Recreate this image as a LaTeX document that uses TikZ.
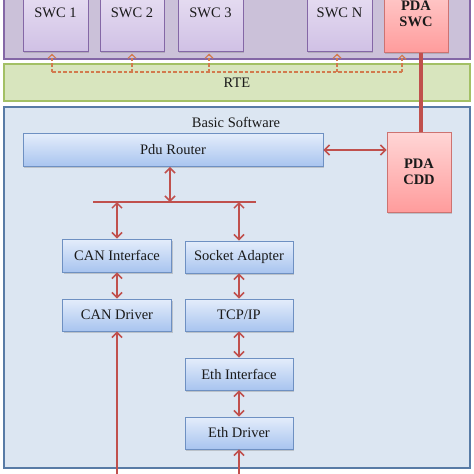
\documentclass[tikz,border=0pt]{standalone}
\usepackage{fontspec}
\setmainfont{Liberation Serif}
\usetikzlibrary{arrows.meta,shadows,shadings,calc}
\definecolor{layerpurple}{HTML}{CBC1D9}
\definecolor{purpleedge}{HTML}{8467A6}
\definecolor{swctop}{HTML}{EEE7F6}
\definecolor{swcbot}{HTML}{D0C1E5}
\definecolor{pdatop}{HTML}{FFD6D6}
\definecolor{pdabot}{HTML}{FF9C9C}
\definecolor{pdaedge}{HTML}{C0504D}
\definecolor{rtefill}{HTML}{D8E5BE}
\definecolor{rteedge}{HTML}{A3C065}
\definecolor{bswfill}{HTML}{DCE6F2}
\definecolor{bswedge}{HTML}{587BA6}
\definecolor{bluetop}{HTML}{E4EDFB}
\definecolor{bluebot}{HTML}{A8C4EF}
\definecolor{blueedge}{HTML}{6E90C2}
\definecolor{arrowred}{HTML}{C0504D}
\definecolor{dashorange}{HTML}{D27A4E}
\definecolor{txt}{HTML}{1A1A1A}
\tikzset{
  base/.style={rectangle, inner sep=0pt, text=txt, font=\fontsize{14.5}{15.5}\selectfont, align=center},
  layer/.style={base, line width=1.2pt},
  swcbox/.style={base, draw=purpleedge, line width=1pt, top color=swctop, bottom color=swcbot,
     drop shadow={shadow xshift=1pt, shadow yshift=-1.5pt, opacity=0.35}},
  pdabox/.style={base, draw=pdaedge!80, line width=1pt, top color=pdatop, bottom color=pdabot,
     font=\fontsize{14.5}{15.5}\selectfont\bfseries,
     drop shadow={shadow xshift=1pt, shadow yshift=-1.5pt, opacity=0.35}},
  bluebox/.style={base, draw=blueedge, line width=0.9pt, top color=bluetop, bottom color=bluebot,
     drop shadow={shadow xshift=1pt, shadow yshift=-1.5pt, opacity=0.35}},
  dbl/.style={draw=arrowred, line width=1.5pt, {Straight Barb[length=5pt,width=10pt]}-{Straight Barb[length=5pt,width=10pt]}},
  uparr/.style={draw=arrowred, line width=1.5pt, -{Straight Barb[length=5pt,width=10pt]}},
  dsh/.style={draw=dashorange, line width=1.2pt, dash pattern=on 3.5pt off 2pt},
}
\begin{document}
\begin{tikzpicture}[x=1pt,y=-1pt]
\useasboundingbox (0,0) rectangle (474,474);
\clip (0,0) rectangle (474,474);
\fill[white] (0,0) rectangle (474,474);
% layers
\node[layer, draw=purpleedge, fill=layerpurple, minimum width=466, minimum height=89] (app) at (237,14.5) {};
\node[layer, draw=rteedge, fill=rtefill, minimum width=466, minimum height=37] (rte) at (237,82.5) {RTE};
\node[layer, draw=bswedge, fill=bswfill, minimum width=466, minimum height=361] (bsw) at (237,287.5) {};
\node[base] (bswlabel) at (236,122) {Basic Software};
% SWCs
\node[swcbox, minimum width=65, minimum height=77] (swc1) at (55.5,12.5) {SWC 1};
\node[swcbox, minimum width=64, minimum height=77] (swc2) at (132,12.5) {SWC 2};
\node[swcbox, minimum width=65, minimum height=77] (swc3) at (210.5,12.5) {SWC 3};
\node[swcbox, minimum width=65, minimum height=77] (swcn) at (339.5,12.5) {SWC N};
\node[pdabox, minimum width=64, minimum height=76] (pdaswc) at (416,14) {PDA\\SWC};
% BSW modules
\node[bluebox, minimum width=300, minimum height=33] (pdu) at (173,150) {Pdu Router};
\node[pdabox, minimum width=64, minimum height=80] (cdd) at (419,172) {PDA\\CDD};
\node[bluebox, minimum width=109, minimum height=33] (canif) at (117,255.5) {CAN Interface};
\node[bluebox, minimum width=108, minimum height=32] (soad) at (239,257) {Socket Adapter};
\node[bluebox, minimum width=109, minimum height=32] (candrv) at (117,315) {CAN Driver};
\node[bluebox, minimum width=108, minimum height=32] (tcpip) at (239,315) {TCP/IP};
\node[bluebox, minimum width=108, minimum height=32] (ethif) at (239,374) {Eth Interface};
\node[bluebox, minimum width=108, minimum height=32] (ethdrv) at (239,433) {Eth Driver};
% dashed RTE connections
\coordinate (d1) at (52,72);
\coordinate (d2) at (132,72);
\coordinate (d3) at (209,72);
\coordinate (d4) at (337,72);
\coordinate (d5) at (402,72);
\draw[dsh] (d1) -- (d5);
\draw[dsh, -{Straight Barb[length=4pt,width=8pt]}] (d1) -- ($(d1 |- swc1.south)+(0,2)$);
\draw[dsh, -{Straight Barb[length=4pt,width=8pt]}] (d2) -- ($(d2 |- swc2.south)+(0,2)$);
\draw[dsh, -{Straight Barb[length=4pt,width=8pt]}] (d3) -- ($(d3 |- swc3.south)+(0,2)$);
\draw[dsh, -{Straight Barb[length=4pt,width=8pt]}] (d4) -- ($(d4 |- swcn.south)+(0,2)$);
\draw[dsh, -{Straight Barb[length=4pt,width=8pt]}] (d5) -- ($(d5 |- pdaswc.south)+(0,2)$);
% thick link PDA SWC -- PDA CDD
\coordinate (thick) at (421,0);
\draw[draw=arrowred, line width=4.5pt] (thick |- pdaswc.south) -- (thick |- cdd.north);
% Pdu Router <-> CDD
\draw[dbl] (pdu.east) -- (pdu.east -| cdd.west);
% bus
\coordinate (busl) at (93,202);
\coordinate (busr) at (256,202);
\coordinate (tap) at (170,202);
\draw[draw=arrowred, line width=1.5pt] (busl) -- (busr);
\draw[dbl] (tap |- pdu.south) -- (tap);
\draw[dbl] (canif.north |- busl) -- (canif.north);
\draw[dbl] (soad.north |- busl) -- (soad.north);
\draw[dbl] (canif.south) -- (candrv.north);
\draw[dbl] (soad.south) -- (tcpip.north);
\draw[dbl] (tcpip.south) -- (ethif.north);
\draw[dbl] (ethif.south) -- (ethdrv.north);
% from below
\coordinate (canbus) at (117,480);
\coordinate (ethbus) at (239,480);
\draw[uparr] (canbus) -- (candrv.south);
\draw[uparr] (ethbus) -- (ethdrv.south);
\end{tikzpicture}
\end{document}
